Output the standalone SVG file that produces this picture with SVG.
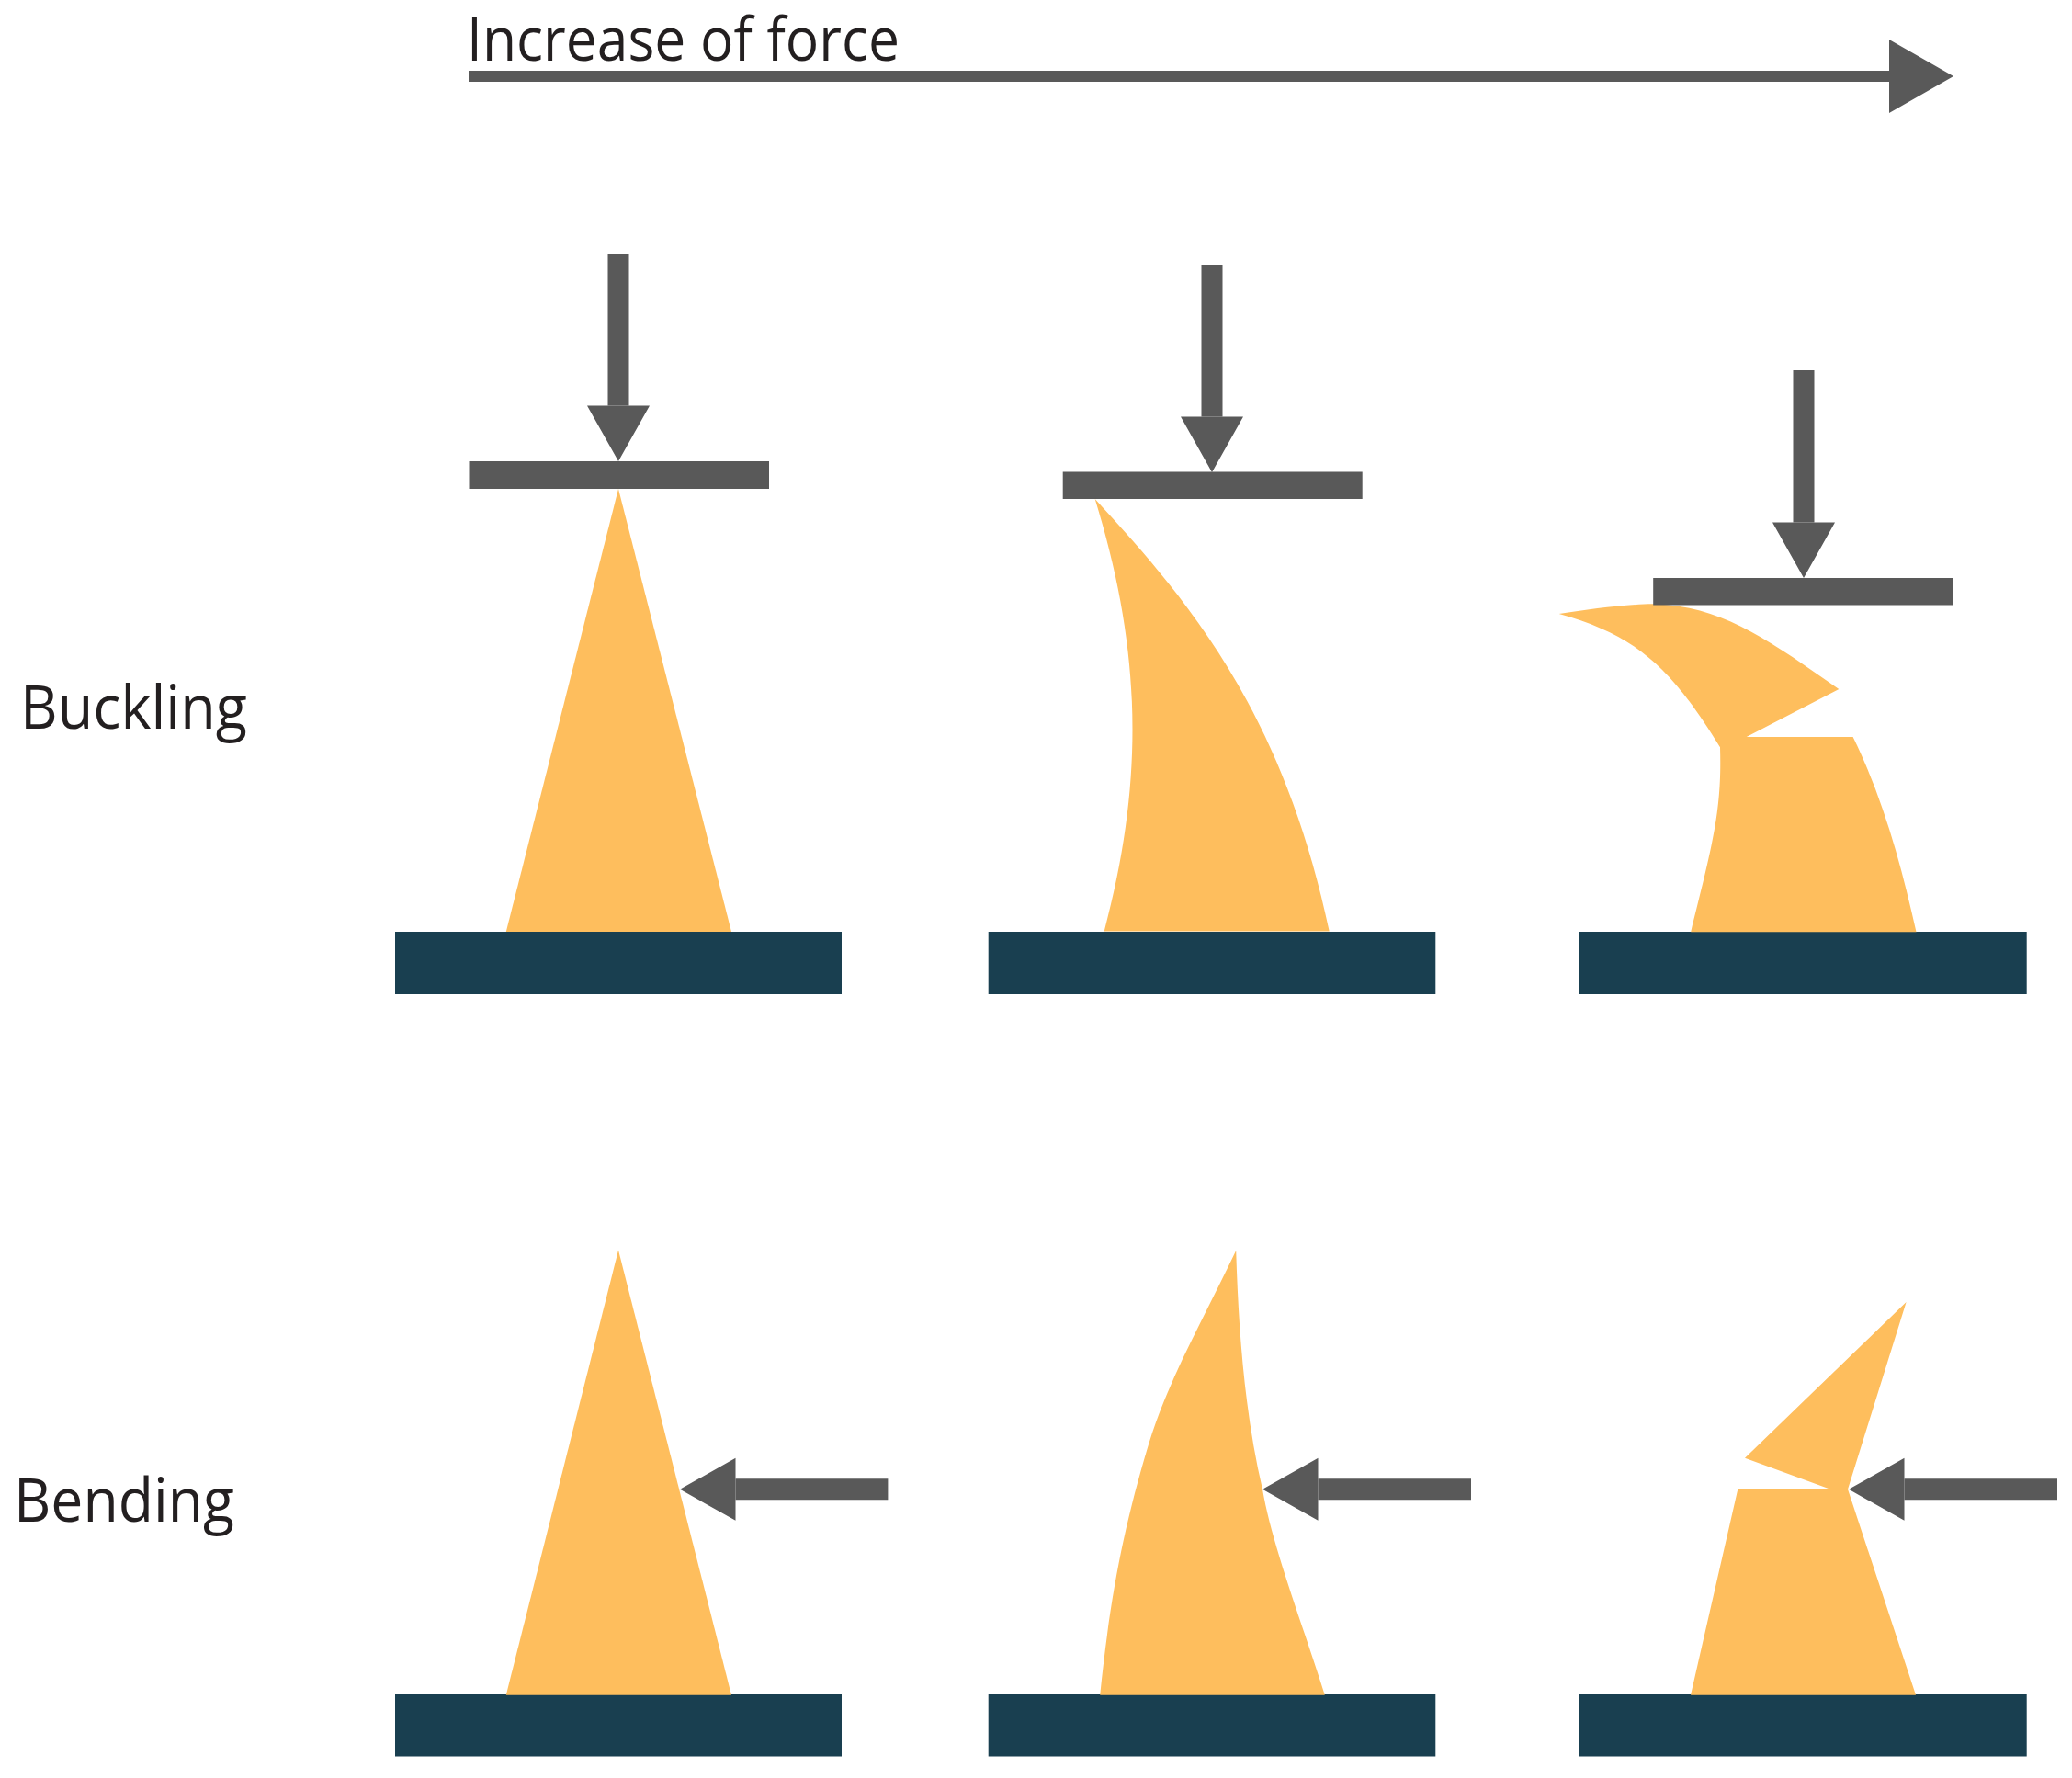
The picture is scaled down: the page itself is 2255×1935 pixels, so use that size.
<svg xmlns="http://www.w3.org/2000/svg" width="2255" height="1935" viewBox="0 0 2255 1935">
<style>
.base{fill:#193f50}
.body{fill:#febe5d}
.plate{fill:#595959}
.force{stroke:#595959;stroke-width:23;fill:none}
.axis{stroke:#595959;stroke-width:12;fill:none}
.lbl{font-family:"Open Sans","Noto Sans","Liberation Sans",sans-serif;fill:#231f20;font-size:65px}
</style>
<defs>
<marker id="head" markerUnits="userSpaceOnUse" markerWidth="63" markerHeight="68" refX="2" refY="34" orient="auto" overflow="visible"><path d="M0 34V34M2 0L62.5 34L2 68Z" fill="#595959"/></marker>
<marker id="headBig" markerUnits="userSpaceOnUse" markerWidth="72" markerHeight="80" refX="2" refY="40" orient="auto" overflow="visible"><path d="M2 0L72 40L2 80Z" fill="#595959"/></marker>
</defs>
<rect width="2255" height="1935" fill="#fff"/>
<g id="label-increase"><text class="lbl" x="508" y="66" textLength="471" lengthAdjust="spacingAndGlyphs">Increase of force</text></g>
<g id="label-buckling"><text class="lbl" x="22" y="793" textLength="247" lengthAdjust="spacingAndGlyphs">Buckling</text></g>
<g id="label-bending"><text class="lbl" x="15" y="1656" textLength="240" lengthAdjust="spacingAndGlyphs">Bending</text></g>

<g id="buckling-1"><rect class="base" x="430" y="1014" width="486" height="68"/><path class="body" d="M673 532L796 1014H550.8Z"/><rect class="plate" x="510.5" y="502" width="326.5" height="30"/></g>
<g id="buckling-2"><rect class="base" x="1075.7" y="1014" width="486.6" height="68"/><path class="body" d="M1191.7 543C1290 650 1395 770 1446.7 1013.5H1201.7C1248 840 1240 700 1191.7 543Z"/><rect class="plate" x="1156.7" y="513.5" width="326" height="29.5"/></g>
<g id="buckling-3"><rect class="base" x="1719" y="1014" width="486.7" height="68"/><path class="body" d="M1696.7 668C1730 663 1770 657.5 1799 657.3L1814.6 658.3C1880 664 1930 700 2001.3 750L1900.7 802H2016.6C2050 870 2070 945 2085.5 1014.3H1840.2C1865 915 1874 880 1872 813.3C1815 720 1775 690 1696.7 668Z"/><rect class="plate" x="1799.2" y="629" width="326.1" height="29.5"/></g>

<g id="bending-1"><rect class="base" x="430" y="1844" width="486" height="67.5"/><path class="body" d="M673 1360.4L796 1844.7H550.8Z"/></g>
<g id="bending-2"><rect class="base" x="1075.7" y="1844" width="486.6" height="67.5"/><path class="body" d="M1345.2 1360.9C1348 1450 1355 1540 1374 1620.8C1384 1680 1415 1760 1441.8 1844.7H1197.2C1208 1740 1222 1665 1250 1572C1272 1500 1310 1435 1345.2 1360.9Z"/></g>
<g id="bending-3"><rect class="base" x="1719" y="1844" width="486.7" height="67.5"/><path class="body" d="M2074.6 1417L2011 1620.8L2085 1844.7H1840L1891.3 1620.8H1992L1899 1586.7Z"/></g>

<g id="connectors">
<line class="axis" x1="510" y1="83" x2="2056" y2="83" marker-end="url(#headBig)"/>
<line class="force" x1="673" y1="276" x2="673" y2="441.5" marker-end="url(#head)"/>
<line class="force" x1="1319" y1="288" x2="1319" y2="453.5" marker-end="url(#head)"/>
<line class="force" x1="1963" y1="403" x2="1963" y2="568.5" marker-end="url(#head)"/>
<line class="force" x1="966.4" y1="1620.8" x2="800.5" y2="1620.8" marker-end="url(#head)"/>
<line class="force" x1="1601" y1="1620.8" x2="1434.5" y2="1620.8" marker-end="url(#head)"/>
<line class="force" x1="2239" y1="1620.8" x2="2072.5" y2="1620.8" marker-end="url(#head)"/>
</g>
</svg>
